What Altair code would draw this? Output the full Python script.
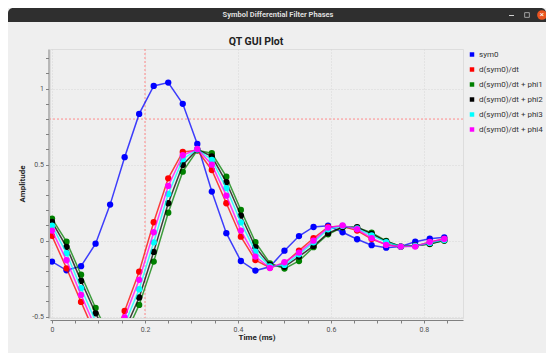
import altair as alt
import pandas as pd

# ---------------- data ----------------
time_ms = [0.0, 0.03125, 0.0625, 0.09375, 0.125, 0.15625, 0.1875, 0.21875,
           0.25, 0.28125, 0.3125, 0.34375, 0.375, 0.40625, 0.4375, 0.46875,
           0.5, 0.53125, 0.5625, 0.59375, 0.625, 0.65625, 0.6875, 0.71875,
           0.75, 0.78125, 0.8125, 0.84375]

sym0 = [-0.138, -0.195, -0.168, -0.020, 0.237, 0.549, 0.834, 1.018, 1.040, 0.900,
        0.636, 0.323, 0.049, -0.134, -0.197, -0.172, -0.066, 0.030, 0.090, 0.098,
        0.055, 0.009, -0.030, -0.046, -0.039, -0.007, 0.013, 0.022]
dsym = [0.031, -0.182, -0.403, -0.620, -0.700, -0.463, -0.204, 0.121, 0.410, 0.584,
        0.595, 0.465, 0.246, 0.026, -0.128, -0.178, -0.149, -0.066, 0.016, 0.090,
        0.095, 0.066, 0.010, -0.025, -0.039, -0.035, -0.010, 0.012]
phi1 = [0.145, -0.007, -0.224, -0.443, -0.640, -0.630, -0.423, -0.138, 0.184, 0.454,
        0.595, 0.575, 0.421, 0.202, -0.010, -0.149, -0.184, -0.134, -0.043, 0.042,
        0.088, 0.086, 0.052, -0.002, -0.039, -0.033, -0.022, 0.000]
phi2 = [0.123, -0.041, -0.265, -0.478, -0.660, -0.590, -0.374, -0.074, 0.246, 0.498,
        0.600, 0.555, 0.384, 0.165, -0.043, -0.160, -0.172, -0.105, -0.035, 0.049,
        0.090, 0.088, 0.045, -0.005, -0.039, -0.033, -0.020, 0.002]
phi3 = [0.099, -0.083, -0.313, -0.530, -0.680, -0.550, -0.320, -0.011, 0.307, 0.536,
        0.600, 0.531, 0.345, 0.120, -0.072, -0.170, -0.160, -0.090, -0.011, 0.075,
        0.097, 0.080, 0.035, -0.010, -0.039, -0.035, -0.015, 0.005]
phi4 = [0.066, -0.129, -0.357, -0.575, -0.690, -0.505, -0.258, 0.055, 0.360, 0.562,
        0.603, 0.500, 0.296, 0.066, -0.105, -0.180, -0.142, -0.079, 0.000, 0.086,
        0.100, 0.075, 0.016, -0.028, -0.039, -0.039, -0.009, 0.011]

series_names = ["sym0", "d(sym0)/dt", "d(sym0)/dt + phi1", "d(sym0)/dt + phi2",
                "d(sym0)/dt + phi3", "d(sym0)/dt + phi4"]
series_values = [sym0, dsym, phi1, phi2, phi3, phi4]
series_colors = ["#0000ff", "#ff0000", "#008000", "#000000", "#00ffff", "#ff00ff"]

x_ticks = [0.0, 0.05, 0.1, 0.15, 0.2, 0.25, 0.3, 0.35, 0.4, 0.45, 0.5, 0.55,
           0.6, 0.65, 0.7, 0.75, 0.8, 0.85]
y_ticks = [-0.5, -0.4, -0.3, -0.2, -0.1, 0.0, 0.1, 0.2, 0.3, 0.4, 0.5, 0.6,
           0.7, 0.8, 0.9, 1.0, 1.1, 1.2]
marker_x = [0.2]
marker_y = [0.8]

rows = []
for name, vals in zip(series_names, series_values):
    for t, v in zip(time_ms, vals):
        rows.append({"time": t, "value": v, "series": name})
df = pd.DataFrame(rows)

# ---------------- layout ----------------
W, H = 413, 269
FONT = "Roboto"

xscale = alt.Scale(domain=[-0.0043, 0.884], nice=False, zero=False)
yscale = alt.Scale(domain=[-0.509, 1.261], nice=False, zero=False)

x_axis = alt.Axis(
    values=x_ticks,
    labelExpr="abs(datum.value*5 - round(datum.value*5)) < 0.001 ? format(datum.value, '.1~f') : ''",
    tickSize=3, tickColor="#808080", domainColor="#808080", offset=2,
    labelFontSize=7, labelColor="#505050", labelPadding=2, labelFlush=False,
    labelOverlap=False, title="Time (ms)", titleFontSize=8, titleFontWeight="bold",
    titleColor="#222222", titlePadding=1,
    grid=True, gridColor="#d6d6d6", gridDash=[1, 2],
    gridOpacity={"condition": {"test": "abs(datum.value*5 - round(datum.value*5)) < 0.001", "value": 1}, "value": 0},
)
y_axis = alt.Axis(
    values=y_ticks,
    labelExpr="abs(datum.value*2 - round(datum.value*2)) < 0.001 ? '' + datum.value : ''",
    tickSize=3, tickColor="#808080", domainColor="#808080", offset=1.5,
    labelFontSize=7, labelColor="#505050", labelPadding=2, labelFlush=False,
    labelOverlap=False, title="Amplitude", titleFontSize=8, titleFontWeight="bold",
    titleColor="#222222", titlePadding=5,
    grid=True, gridColor="#d6d6d6", gridDash=[1, 2],
    gridOpacity={"condition": {"test": "abs(datum.value*2 - round(datum.value*2)) < 0.001", "value": 1}, "value": 0},
)

X = alt.X("time:Q", scale=xscale, axis=x_axis)
Y = alt.Y("value:Q", scale=yscale, axis=y_axis)

legend = alt.Legend(
    orient="none", legendX=418, legendY=1.5, title=None, symbolType="square",
    symbolSize=20, symbolStrokeWidth=0, labelFont=FONT, labelFontSize=8,
    labelColor="#333333", labelOffset=3, rowPadding=7, padding=0,
)
color_scale = alt.Scale(domain=series_names, range=series_colors)

layers = []

# Qt plot markers (red dashed crosshair)
layers.append(
    alt.Chart(pd.DataFrame({"time": marker_x})).mark_rule(
        color="#ff8a8a", strokeDash=[2, 2], strokeWidth=1
    ).encode(x=X)
)
layers.append(
    alt.Chart(pd.DataFrame({"value": marker_y})).mark_rule(
        color="#ff8a8a", strokeDash=[2, 2], strokeWidth=1
    ).encode(y=Y)
)

for name, col in zip(series_names, series_colors):
    base = alt.Chart(df).transform_filter(alt.datum.series == name)
    layers.append(
        base.mark_line(strokeWidth=1.5, opacity=0.75, clip=True).encode(
            x=X, y=Y, color=alt.value(col)
        )
    )
    layers.append(
        base.mark_point(filled=True, size=40, opacity=1, clip=True).encode(
            x=X, y=Y,
            color=alt.Color("series:N", scale=color_scale, legend=legend),
        )
    )

# ---------------- window chrome ----------------
dummy = pd.DataFrame({"k": [0]})
layers.append(
    alt.Chart(dummy).mark_rect(color="#2f2f2f", cornerRadiusTopLeft=5,
                               cornerRadiusTopRight=5).encode(
        x=alt.value(-42), x2=alt.value(496), y=alt.value(-41), y2=alt.value(-27)
    )
)
layers.append(
    alt.Chart(dummy).mark_text(font=FONT, fontSize=7.5, fontWeight="bold",
                               color="#dedede", baseline="middle").encode(
        x=alt.value(228), y=alt.value(-34), text=alt.value("Symbol Differential Filter Phases")
    )
)
layers.append(
    alt.Chart(dummy).mark_rule(color="#d0d0d0", strokeWidth=1).encode(
        x=alt.value(459), x2=alt.value(464), y=alt.value(-33.5)
    )
)
layers.append(
    alt.Chart(dummy).mark_point(shape="square", filled=False, size=22,
                                color="#d0d0d0", strokeWidth=1).encode(
        x=alt.value(477), y=alt.value(-34)
    )
)
layers.append(
    alt.Chart(dummy).mark_point(shape="circle", filled=True, size=95,
                                color="#e9541f", opacity=1).encode(
        x=alt.value(492), y=alt.value(-34)
    )
)
layers.append(
    alt.Chart(dummy).mark_text(font=FONT, fontSize=8, color="#ffffff",
                               baseline="middle").encode(
        x=alt.value(492), y=alt.value(-34), text=alt.value("×")
    )
)
layers.append(
    alt.Chart(dummy).mark_text(font=FONT, fontSize=10.5, fontWeight="bold",
                               color="#222222", baseline="middle").encode(
        x=alt.value(206), y=alt.value(-7.5), text=alt.value("QT GUI Plot")
    )
)

chart = alt.layer(*layers).properties(
    width=W, height=H,
    autosize=alt.AutoSizeParams(type="none"),
    padding={"left": 42, "top": 41, "right": 83, "bottom": 35},
    background="#efefef",
).configure_view(
    fill="#ffffff", stroke="#b0b0b0", strokeWidth=1
).configure(font=FONT)

chart.save("out.html", embed_options={"renderer": "svg", "actions": False})
